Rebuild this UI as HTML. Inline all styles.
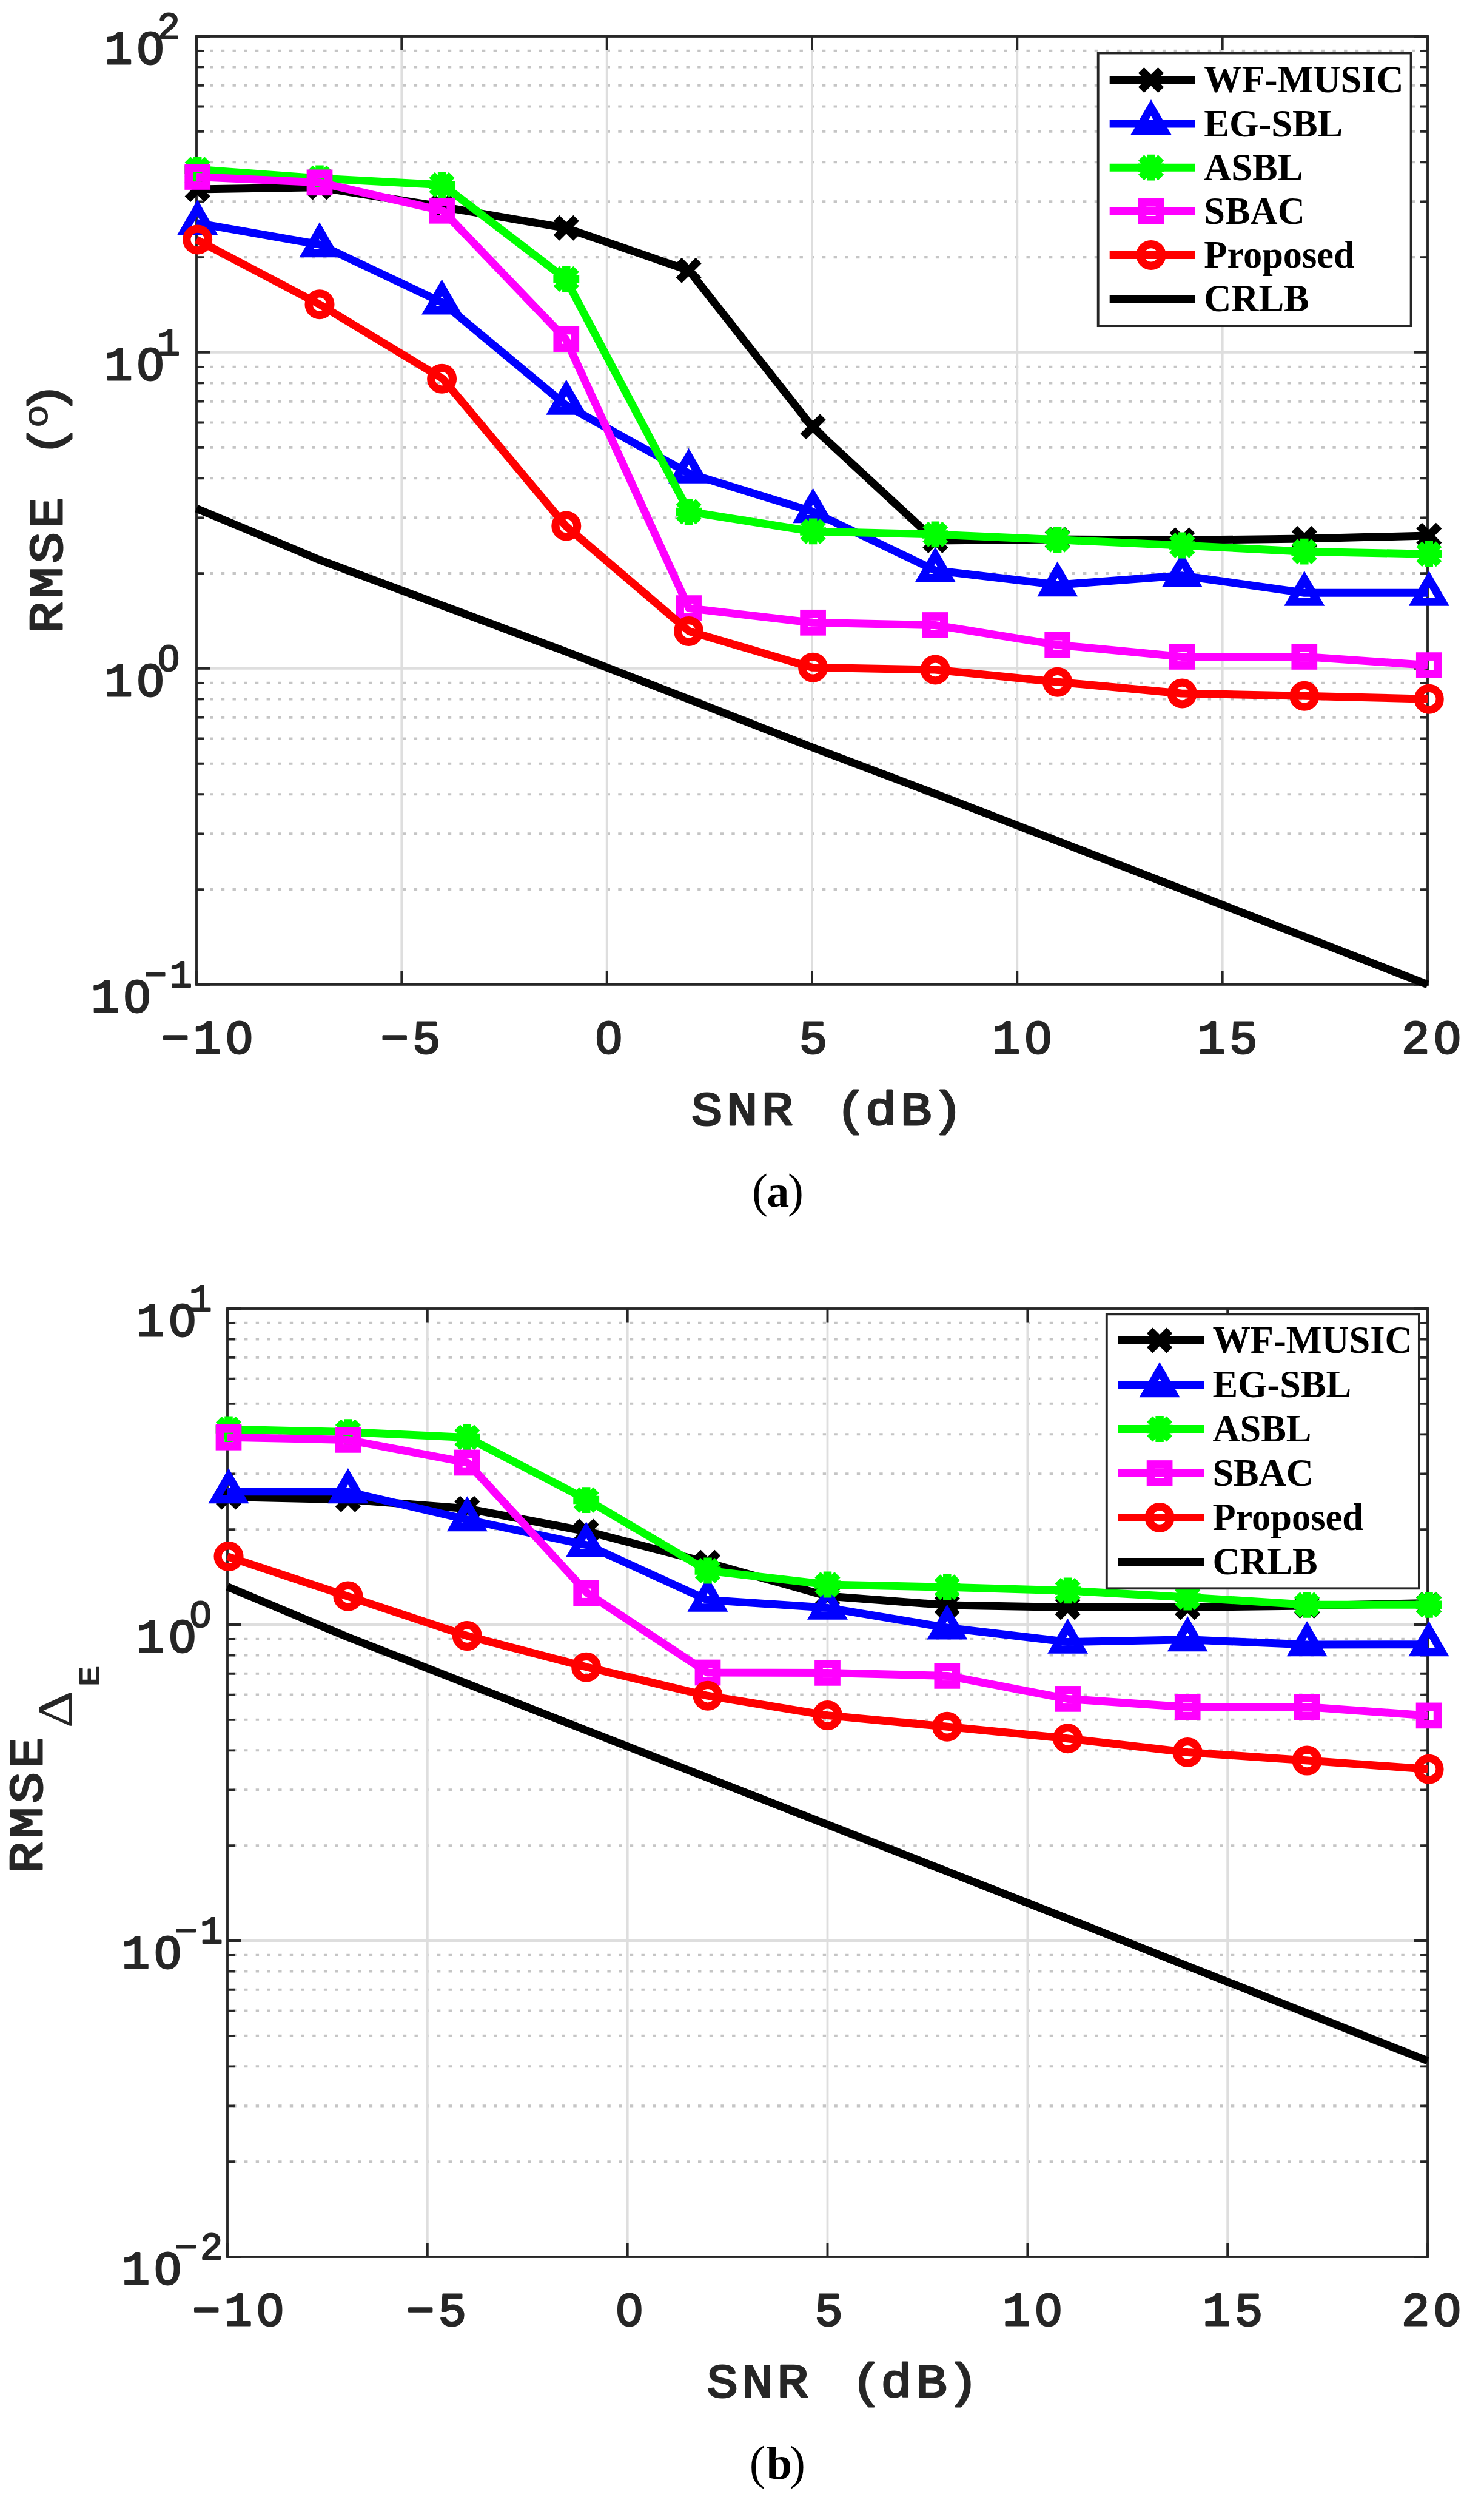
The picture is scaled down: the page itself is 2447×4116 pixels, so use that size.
<!DOCTYPE html>
<html lang="en"><head><meta charset="utf-8"><title>RMSE versus SNR</title>
<style>html,body{margin:0;padding:0;background:#fff}body{width:2447px;height:4116px;overflow:hidden}svg{display:block}</style>
</head><body>
<svg width="2447" height="4116" viewBox="0 0 2447 4116">
<rect width="2447" height="4116" fill="#ffffff"/>
<clipPath id="clipa"><rect x="324.0" y="59.95" width="2030.0" height="1562.95"/></clipPath>
<path d="M327.4 424.1H2354.0M327.4 332.4H2354.0M327.4 267.3H2354.0M327.4 216.8H2354.0M327.4 175.5H2354.0M327.4 140.7H2354.0M327.4 110.4H2354.0M327.4 83.8H2354.0M327.4 945.1H2354.0M327.4 853.3H2354.0M327.4 788.3H2354.0M327.4 737.8H2354.0M327.4 696.5H2354.0M327.4 661.6H2354.0M327.4 631.4H2354.0M327.4 604.8H2354.0M327.4 1466.1H2354.0M327.4 1374.3H2354.0M327.4 1309.2H2354.0M327.4 1258.7H2354.0M327.4 1217.5H2354.0M327.4 1182.6H2354.0M327.4 1152.4H2354.0M327.4 1125.8H2354.0" stroke="#c5c5c5" stroke-width="4.1" stroke-dasharray="5.4 13.3" fill="none" clip-path="url(#clipa)"/>
<path d="M662.3 59.95V1622.9M1000.7 59.95V1622.9M1339.0 59.95V1622.9M1677.3 59.95V1622.9M2015.7 59.95V1622.9M324.0 580.9H2354.0M324.0 1101.9H2354.0" stroke="#dedede" stroke-width="3.8" fill="none"/>
<path d="M324.0 1622.9v-22.5M324.0 59.95v22.5M662.3 1622.9v-22.5M662.3 59.95v22.5M1000.7 1622.9v-22.5M1000.7 59.95v22.5M1339.0 1622.9v-22.5M1339.0 59.95v22.5M1677.3 1622.9v-22.5M1677.3 59.95v22.5M2015.7 1622.9v-22.5M2015.7 59.95v22.5M2354.0 1622.9v-22.5M2354.0 59.95v22.5M324.0 60.0h22.5M2354.0 60.0h-22.5M324.0 580.9h22.5M2354.0 580.9h-22.5M324.0 1101.9h22.5M2354.0 1101.9h-22.5M324.0 1622.9h22.5M2354.0 1622.9h-22.5M324.0 424.1h12.0M2354.0 424.1h-12.0M324.0 332.4h12.0M2354.0 332.4h-12.0M324.0 267.3h12.0M2354.0 267.3h-12.0M324.0 216.8h12.0M2354.0 216.8h-12.0M324.0 175.5h12.0M2354.0 175.5h-12.0M324.0 140.7h12.0M2354.0 140.7h-12.0M324.0 110.4h12.0M2354.0 110.4h-12.0M324.0 83.8h12.0M2354.0 83.8h-12.0M324.0 945.1h12.0M2354.0 945.1h-12.0M324.0 853.3h12.0M2354.0 853.3h-12.0M324.0 788.3h12.0M2354.0 788.3h-12.0M324.0 737.8h12.0M2354.0 737.8h-12.0M324.0 696.5h12.0M2354.0 696.5h-12.0M324.0 661.6h12.0M2354.0 661.6h-12.0M324.0 631.4h12.0M2354.0 631.4h-12.0M324.0 604.8h12.0M2354.0 604.8h-12.0M324.0 1466.1h12.0M2354.0 1466.1h-12.0M324.0 1374.3h12.0M2354.0 1374.3h-12.0M324.0 1309.2h12.0M2354.0 1309.2h-12.0M324.0 1258.7h12.0M2354.0 1258.7h-12.0M324.0 1217.5h12.0M2354.0 1217.5h-12.0M324.0 1182.6h12.0M2354.0 1182.6h-12.0M324.0 1152.4h12.0M2354.0 1152.4h-12.0M324.0 1125.8h12.0M2354.0 1125.8h-12.0" stroke="#262626" stroke-width="3.85" fill="none"/>
<rect x="324.0" y="59.95" width="2030.0" height="1562.95" stroke="#262626" stroke-width="3.85" fill="none"/>
<polyline points="324.0,312.0 527.0,308.8 730.0,341.0 933.0,375.8 1136.0,445.8 1339.0,703.3 1542.0,891.0 1745.0,889.0 1948.0,890.3 2151.0,888.1 2354.0,882.9" stroke="#000000" stroke-width="13.0" stroke-linejoin="round" fill="none"/>
<g><path d="M309.4 295.7L342.0 328.3M309.4 328.3L342.0 295.7" stroke="#000000" stroke-width="13.5" fill="none"/><path d="M510.7 292.5L543.3 325.1M510.7 325.1L543.3 292.5" stroke="#000000" stroke-width="13.5" fill="none"/><path d="M712.3 324.7L744.9 357.3M712.3 357.3L744.9 324.7" stroke="#000000" stroke-width="13.5" fill="none"/><path d="M917.5 359.5L950.1 392.1M917.5 392.1L950.1 359.5" stroke="#000000" stroke-width="13.5" fill="none"/><path d="M1119.3 429.5L1151.9 462.1M1119.3 462.1L1151.9 429.5" stroke="#000000" stroke-width="13.5" fill="none"/><path d="M1324.3 687.0L1356.9 719.6M1324.3 719.6L1356.9 687.0" stroke="#000000" stroke-width="13.5" fill="none"/><path d="M1526.0 874.7L1558.6 907.3M1526.0 907.3L1558.6 874.7" stroke="#000000" stroke-width="13.5" fill="none"/><path d="M1727.4 872.7L1760.0 905.3M1727.4 905.3L1760.0 872.7" stroke="#000000" stroke-width="13.5" fill="none"/><path d="M1933.0 874.0L1965.6 906.6M1933.0 906.6L1965.6 874.0" stroke="#000000" stroke-width="13.5" fill="none"/><path d="M2134.5 871.8L2167.1 904.4M2134.5 904.4L2167.1 871.8" stroke="#000000" stroke-width="13.5" fill="none"/><path d="M2340.0 866.6L2372.6 899.2M2340.0 899.2L2372.6 866.6" stroke="#000000" stroke-width="13.5" fill="none"/></g>
<polyline points="324.0,367.7 527.0,403.0 730.0,499.1 933.0,667.8 1136.0,780.4 1339.0,843.0 1542.0,940.2 1745.0,964.0 1948.0,948.7 2151.0,977.2 2354.0,977.2" stroke="#0000ff" stroke-width="13.0" stroke-linejoin="round" fill="none"/>
<g><path d="M325.7 342.6L347.5 380.4L303.9 380.4Z" stroke="#0000ff" stroke-width="13.5" stroke-linejoin="miter" stroke-miterlimit="10" fill="none"/><path d="M527.0 379.8L548.8 417.6L505.2 417.6Z" stroke="#0000ff" stroke-width="13.5" stroke-linejoin="miter" stroke-miterlimit="10" fill="none"/><path d="M728.6 474.0L750.4 511.8L706.8 511.8Z" stroke="#0000ff" stroke-width="13.5" stroke-linejoin="miter" stroke-miterlimit="10" fill="none"/><path d="M933.8 639.2L955.6 676.9L912.0 676.9Z" stroke="#0000ff" stroke-width="13.5" stroke-linejoin="miter" stroke-miterlimit="10" fill="none"/><path d="M1135.6 752.2L1157.4 789.9L1113.8 789.9Z" stroke="#0000ff" stroke-width="13.5" stroke-linejoin="miter" stroke-miterlimit="10" fill="none"/><path d="M1340.6 817.9L1362.4 855.6L1318.8 855.6Z" stroke="#0000ff" stroke-width="13.5" stroke-linejoin="miter" stroke-miterlimit="10" fill="none"/><path d="M1542.3 915.0L1564.1 952.8L1520.5 952.8Z" stroke="#0000ff" stroke-width="13.5" stroke-linejoin="miter" stroke-miterlimit="10" fill="none"/><path d="M1743.7 938.9L1765.5 976.6L1721.9 976.6Z" stroke="#0000ff" stroke-width="13.5" stroke-linejoin="miter" stroke-miterlimit="10" fill="none"/><path d="M1949.3 923.6L1971.1 961.3L1927.5 961.3Z" stroke="#0000ff" stroke-width="13.5" stroke-linejoin="miter" stroke-miterlimit="10" fill="none"/><path d="M2150.8 954.4L2172.6 992.1L2129.0 992.1Z" stroke="#0000ff" stroke-width="13.5" stroke-linejoin="miter" stroke-miterlimit="10" fill="none"/><path d="M2356.3 954.4L2378.1 992.1L2334.5 992.1Z" stroke="#0000ff" stroke-width="13.5" stroke-linejoin="miter" stroke-miterlimit="10" fill="none"/></g>
<polyline points="324.0,279.3 527.0,293.9 730.0,304.8 933.0,459.9 1136.0,843.5 1339.0,875.9 1542.0,880.9 1745.0,889.8 1948.0,899.0 2151.0,909.2 2354.0,913.2" stroke="#00ff00" stroke-width="13.0" stroke-linejoin="round" fill="none"/>
<g><path d="M309.4 263.0L342.0 295.6M309.4 295.6L342.0 263.0M304.3 279.3L347.1 279.3M325.7 257.9L325.7 300.7" stroke="#00ff00" stroke-width="13.5" fill="none"/><path d="M510.7 277.6L543.3 310.2M510.7 310.2L543.3 277.6M505.6 293.9L548.4 293.9M527.0 272.5L527.0 315.3" stroke="#00ff00" stroke-width="13.5" fill="none"/><path d="M712.3 288.5L744.9 321.1M712.3 321.1L744.9 288.5M707.2 304.8L750.0 304.8M728.6 283.4L728.6 326.2" stroke="#00ff00" stroke-width="13.5" fill="none"/><path d="M917.5 443.6L950.1 476.2M917.5 476.2L950.1 443.6M912.4 459.9L955.2 459.9M933.8 438.5L933.8 481.3" stroke="#00ff00" stroke-width="13.5" fill="none"/><path d="M1119.3 827.2L1151.9 859.8M1119.3 859.8L1151.9 827.2M1114.2 843.5L1157.0 843.5M1135.6 822.1L1135.6 864.9" stroke="#00ff00" stroke-width="13.5" fill="none"/><path d="M1324.3 859.6L1356.9 892.2M1324.3 892.2L1356.9 859.6M1319.2 875.9L1362.0 875.9M1340.6 854.5L1340.6 897.3" stroke="#00ff00" stroke-width="13.5" fill="none"/><path d="M1526.0 864.6L1558.6 897.2M1526.0 897.2L1558.6 864.6M1520.9 880.9L1563.7 880.9M1542.3 859.5L1542.3 902.3" stroke="#00ff00" stroke-width="13.5" fill="none"/><path d="M1727.4 873.5L1760.0 906.1M1727.4 906.1L1760.0 873.5M1722.3 889.8L1765.1 889.8M1743.7 868.4L1743.7 911.2" stroke="#00ff00" stroke-width="13.5" fill="none"/><path d="M1933.0 882.7L1965.6 915.3M1933.0 915.3L1965.6 882.7M1927.9 899.0L1970.7 899.0M1949.3 877.6L1949.3 920.4" stroke="#00ff00" stroke-width="13.5" fill="none"/><path d="M2134.5 892.9L2167.1 925.5M2134.5 925.5L2167.1 892.9M2129.4 909.2L2172.2 909.2M2150.8 887.8L2150.8 930.6" stroke="#00ff00" stroke-width="13.5" fill="none"/><path d="M2340.0 896.9L2372.6 929.5M2340.0 929.5L2372.6 896.9M2334.9 913.2L2377.7 913.2M2356.3 891.8L2356.3 934.6" stroke="#00ff00" stroke-width="13.5" fill="none"/></g>
<polyline points="324.0,291.5 527.0,300.8 730.0,347.3 933.0,559.0 1136.0,1002.6 1339.0,1026.3 1542.0,1030.5 1745.0,1063.2 1948.0,1082.4 2151.0,1082.4 2354.0,1096.6" stroke="#ff00ff" stroke-width="13.0" stroke-linejoin="round" fill="none"/>
<g><rect x="311.2" y="277.0" width="29.0" height="29.0" stroke="#ff00ff" stroke-width="13.7" fill="none"/><rect x="512.5" y="286.3" width="29.0" height="29.0" stroke="#ff00ff" stroke-width="13.7" fill="none"/><rect x="714.1" y="332.8" width="29.0" height="29.0" stroke="#ff00ff" stroke-width="13.7" fill="none"/><rect x="919.3" y="544.5" width="29.0" height="29.0" stroke="#ff00ff" stroke-width="13.7" fill="none"/><rect x="1121.1" y="988.1" width="29.0" height="29.0" stroke="#ff00ff" stroke-width="13.7" fill="none"/><rect x="1326.1" y="1011.8" width="29.0" height="29.0" stroke="#ff00ff" stroke-width="13.7" fill="none"/><rect x="1527.8" y="1016.0" width="29.0" height="29.0" stroke="#ff00ff" stroke-width="13.7" fill="none"/><rect x="1729.2" y="1048.7" width="29.0" height="29.0" stroke="#ff00ff" stroke-width="13.7" fill="none"/><rect x="1934.8" y="1067.9" width="29.0" height="29.0" stroke="#ff00ff" stroke-width="13.7" fill="none"/><rect x="2136.3" y="1067.9" width="29.0" height="29.0" stroke="#ff00ff" stroke-width="13.7" fill="none"/><rect x="2341.8" y="1082.1" width="29.0" height="29.0" stroke="#ff00ff" stroke-width="13.7" fill="none"/></g>
<polyline points="324.0,395.0 527.0,501.7 730.0,624.2 933.0,867.0 1136.0,1040.4 1339.0,1100.3 1542.0,1104.0 1745.0,1124.3 1948.0,1143.0 2151.0,1147.3 2354.0,1152.2" stroke="#ff0000" stroke-width="13.0" stroke-linejoin="round" fill="none"/>
<g><circle cx="325.7" cy="395.0" r="17.85" stroke="#ff0000" stroke-width="13.3" fill="none"/><circle cx="527.0" cy="501.7" r="17.85" stroke="#ff0000" stroke-width="13.3" fill="none"/><circle cx="728.6" cy="624.2" r="17.85" stroke="#ff0000" stroke-width="13.3" fill="none"/><circle cx="933.8" cy="867.0" r="17.85" stroke="#ff0000" stroke-width="13.3" fill="none"/><circle cx="1135.6" cy="1040.4" r="17.85" stroke="#ff0000" stroke-width="13.3" fill="none"/><circle cx="1340.6" cy="1100.3" r="17.85" stroke="#ff0000" stroke-width="13.3" fill="none"/><circle cx="1542.3" cy="1104.0" r="17.85" stroke="#ff0000" stroke-width="13.3" fill="none"/><circle cx="1743.7" cy="1124.3" r="17.85" stroke="#ff0000" stroke-width="13.3" fill="none"/><circle cx="1949.3" cy="1143.0" r="17.85" stroke="#ff0000" stroke-width="13.3" fill="none"/><circle cx="2150.8" cy="1147.3" r="17.85" stroke="#ff0000" stroke-width="13.3" fill="none"/><circle cx="2356.3" cy="1152.2" r="17.85" stroke="#ff0000" stroke-width="13.3" fill="none"/></g>
<polyline points="324.0,838.2 527.0,922.9 730.0,998.3 933.0,1074.0 1136.0,1152.6 1339.0,1231.8 1542.0,1308.4 1745.0,1386.8 1948.0,1465.4 2151.0,1544.0 2354.0,1622.9" stroke="#000000" stroke-width="13.0" stroke-linejoin="round" fill="none"/>
<g font-family="'Liberation Mono', monospace" font-weight="normal" fill="#262626" stroke="#262626" stroke-linejoin="round">
<text transform="translate(0 1735.9) scale(1.0 1)" x="266.00 318.80 371.60" y="0" font-size="77.0" stroke-width="3.0">−10</text><rect transform="" x="387.9" y="1703.2" width="13.7" height="14.2" rx="2.4" fill="#ffffff" stroke="none"/>
<text transform="translate(0 1735.9) scale(1.0 1)" x="627.43 680.23" y="0" font-size="77.0" stroke-width="3.0">−5</text>
<text transform="translate(0 1735.9) scale(1.0 1)" x="980.77" y="0" font-size="77.0" stroke-width="3.0">0</text><rect transform="" x="997.0" y="1703.2" width="13.7" height="14.2" rx="2.4" fill="#ffffff" stroke="none"/>
<text transform="translate(0 1735.9) scale(1.0 1)" x="1317.90" y="0" font-size="77.0" stroke-width="3.0">5</text>
<text transform="translate(0 1735.9) scale(1.0 1)" x="1636.03 1688.83" y="0" font-size="77.0" stroke-width="3.0">10</text><rect transform="" x="1705.1" y="1703.2" width="13.7" height="14.2" rx="2.4" fill="#ffffff" stroke="none"/>
<text transform="translate(0 1735.9) scale(1.0 1)" x="1974.57 2027.37" y="0" font-size="77.0" stroke-width="3.0">15</text>
<text transform="translate(0 1735.9) scale(1.0 1)" x="2310.90 2363.40" y="0" font-size="77.0" stroke-width="3.0">20</text><rect transform="" x="2379.7" y="1703.2" width="13.7" height="14.2" rx="2.4" fill="#ffffff" stroke="none"/>
<text transform="translate(0 104.8) scale(1.0 1)" x="172.30 225.10" y="0" font-size="77.0" stroke-width="3.0">10</text><rect transform="" x="241.4" y="72.1" width="13.7" height="14.2" rx="2.4" fill="#ffffff" stroke="none"/>
<text transform="translate(0 63.5) scale(1.0 1)" x="259.51" y="0" font-size="62.3" stroke-width="2.2">2</text>
<text transform="translate(0 625.7) scale(1.0 1)" x="172.30 225.10" y="0" font-size="77.0" stroke-width="3.0">10</text><rect transform="" x="241.4" y="593.1" width="13.7" height="14.2" rx="2.4" fill="#ffffff" stroke="none"/>
<text transform="translate(0 584.5) scale(1.0 1)" x="259.51" y="0" font-size="62.3" stroke-width="2.2">1</text>
<text transform="translate(0 1146.7) scale(1.0 1)" x="172.30 225.10" y="0" font-size="77.0" stroke-width="3.0">10</text><rect transform="" x="241.4" y="1114.1" width="13.7" height="14.2" rx="2.4" fill="#ffffff" stroke="none"/>
<text transform="translate(0 1105.5) scale(1.0 1)" x="259.51" y="0" font-size="62.3" stroke-width="2.2">0</text><rect transform="" x="272.6" y="1079.0" width="11.2" height="11.6" rx="2.0" fill="#ffffff" stroke="none"/>
<text transform="translate(0 1667.7) scale(1.0 1)" x="150.30 203.10" y="0" font-size="77.0" stroke-width="3.0">10</text><rect transform="" x="219.4" y="1635.0" width="13.7" height="14.2" rx="2.4" fill="#ffffff" stroke="none"/>
<text transform="translate(0 1626.5) scale(1.0 1)" x="237.51 279.51" y="0" font-size="62.3" stroke-width="2.2">−1</text>
<text transform="translate(0 1853.6) scale(1.1 1)" x="1036.06 1088.78 1141.51 1194.24 1252.42 1296.96 1349.69 1396.51" y="0" font-size="78.3" stroke-width="3.0">SNR (dB)</text>
</g>
<rect x="1810.7" y="87.5" width="515.9" height="449.6" fill="#ffffff" stroke="#262626" stroke-width="3.85"/>
<g font-family="'Liberation Serif', serif" font-weight="bold" font-size="62.4" fill="#000000">
<path d="M1829.7 132.0H1971.0" stroke="#000000" stroke-width="13.0" fill="none"/>
<path d="M1881.7 115.7L1914.3 148.3M1881.7 148.3L1914.3 115.7" stroke="#000000" stroke-width="13.5" fill="none"/>
<text x="1985.3" y="152.4">WF-MUSIC</text>
<path d="M1829.7 204.1H1971.0" stroke="#0000ff" stroke-width="13.0" fill="none"/>
<path d="M1898.0 177.6L1919.8 215.3L1876.2 215.3Z" stroke="#0000ff" stroke-width="13.5" stroke-linejoin="miter" stroke-miterlimit="10" fill="none"/>
<text x="1985.3" y="224.5">EG-SBL</text>
<path d="M1829.7 276.2H1971.0" stroke="#00ff00" stroke-width="13.0" fill="none"/>
<path d="M1881.7 259.9L1914.3 292.5M1881.7 292.5L1914.3 259.9M1876.6 276.2L1919.4 276.2M1898.0 254.8L1898.0 297.6" stroke="#00ff00" stroke-width="13.5" fill="none"/>
<text x="1985.3" y="296.6">ASBL</text>
<path d="M1829.7 348.3H1971.0" stroke="#ff00ff" stroke-width="13.0" fill="none"/>
<rect x="1883.5" y="333.8" width="29.0" height="29.0" stroke="#ff00ff" stroke-width="13.7" fill="none"/>
<text x="1985.3" y="368.7">SBAC</text>
<path d="M1829.7 420.4H1971.0" stroke="#ff0000" stroke-width="13.0" fill="none"/>
<circle cx="1898.0" cy="420.4" r="17.85" stroke="#ff0000" stroke-width="13.3" fill="none"/>
<text x="1985.3" y="440.8">Proposed</text>
<path d="M1829.7 492.5H1971.0" stroke="#000000" stroke-width="13.0" fill="none"/>
<text x="1985.3" y="512.9">CRLB</text>
</g>
<clipPath id="clipb"><rect x="375.0" y="2157.0" width="1979.0500000000002" height="1563.0"/></clipPath>
<path d="M384.3 2521.2H2354.1M384.3 2429.4H2354.1M384.3 2364.3H2354.1M384.3 2313.8H2354.1M384.3 2272.6H2354.1M384.3 2237.7H2354.1M384.3 2207.5H2354.1M384.3 2180.8H2354.1M384.3 3042.2H2354.1M384.3 2950.4H2354.1M384.3 2885.3H2354.1M384.3 2834.8H2354.1M384.3 2793.6H2354.1M384.3 2758.7H2354.1M384.3 2728.5H2354.1M384.3 2701.8H2354.1M384.3 3563.2H2354.1M384.3 3471.4H2354.1M384.3 3406.3H2354.1M384.3 3355.8H2354.1M384.3 3314.6H2354.1M384.3 3279.7H2354.1M384.3 3249.5H2354.1M384.3 3222.8H2354.1" stroke="#c5c5c5" stroke-width="4.1" stroke-dasharray="5.4 13.3" fill="none" clip-path="url(#clipb)"/>
<path d="M704.8 2157.0V3720.0M1034.7 2157.0V3720.0M1364.5 2157.0V3720.0M1694.4 2157.0V3720.0M2024.2 2157.0V3720.0M375.0 2678.0H2354.05M375.0 3199.0H2354.05" stroke="#dedede" stroke-width="3.8" fill="none"/>
<path d="M375.0 3720.0v-22.5M375.0 2157.0v22.5M704.8 3720.0v-22.5M704.8 2157.0v22.5M1034.7 3720.0v-22.5M1034.7 2157.0v22.5M1364.5 3720.0v-22.5M1364.5 2157.0v22.5M1694.4 3720.0v-22.5M1694.4 2157.0v22.5M2024.2 3720.0v-22.5M2024.2 2157.0v22.5M2354.1 3720.0v-22.5M2354.1 2157.0v22.5M375.0 2157.0h22.5M2354.05 2157.0h-22.5M375.0 2678.0h22.5M2354.05 2678.0h-22.5M375.0 3199.0h22.5M2354.05 3199.0h-22.5M375.0 3720.0h22.5M2354.05 3720.0h-22.5M375.0 2521.2h12.0M2354.05 2521.2h-12.0M375.0 2429.4h12.0M2354.05 2429.4h-12.0M375.0 2364.3h12.0M2354.05 2364.3h-12.0M375.0 2313.8h12.0M2354.05 2313.8h-12.0M375.0 2272.6h12.0M2354.05 2272.6h-12.0M375.0 2237.7h12.0M2354.05 2237.7h-12.0M375.0 2207.5h12.0M2354.05 2207.5h-12.0M375.0 2180.8h12.0M2354.05 2180.8h-12.0M375.0 3042.2h12.0M2354.05 3042.2h-12.0M375.0 2950.4h12.0M2354.05 2950.4h-12.0M375.0 2885.3h12.0M2354.05 2885.3h-12.0M375.0 2834.8h12.0M2354.05 2834.8h-12.0M375.0 2793.6h12.0M2354.05 2793.6h-12.0M375.0 2758.7h12.0M2354.05 2758.7h-12.0M375.0 2728.5h12.0M2354.05 2728.5h-12.0M375.0 2701.8h12.0M2354.05 2701.8h-12.0M375.0 3563.2h12.0M2354.05 3563.2h-12.0M375.0 3471.4h12.0M2354.05 3471.4h-12.0M375.0 3406.3h12.0M2354.05 3406.3h-12.0M375.0 3355.8h12.0M2354.05 3355.8h-12.0M375.0 3314.6h12.0M2354.05 3314.6h-12.0M375.0 3279.7h12.0M2354.05 3279.7h-12.0M375.0 3249.5h12.0M2354.05 3249.5h-12.0M375.0 3222.8h12.0M2354.05 3222.8h-12.0" stroke="#262626" stroke-width="3.85" fill="none"/>
<rect x="375.0" y="2157.0" width="1979.0500000000002" height="1563.0" stroke="#262626" stroke-width="3.85" fill="none"/>
<polyline points="375.0,2467.5 572.9,2471.8 770.8,2486.8 968.7,2524.5 1166.6,2575.7 1364.5,2631.0 1562.4,2646.0 1760.3,2649.4 1958.2,2649.4 2156.1,2647.0 2354.1,2642.5" stroke="#000000" stroke-width="13.0" stroke-linejoin="round" fill="none"/>
<g><path d="M360.7 2451.2L393.3 2483.8M360.7 2483.8L393.3 2451.2" stroke="#000000" stroke-width="13.5" fill="none"/><path d="M557.6 2455.5L590.2 2488.1M557.6 2488.1L590.2 2455.5" stroke="#000000" stroke-width="13.5" fill="none"/><path d="M754.0 2470.5L786.6 2503.1M754.0 2503.1L786.6 2470.5" stroke="#000000" stroke-width="13.5" fill="none"/><path d="M950.4 2508.2L983.0 2540.8M950.4 2540.8L983.0 2508.2" stroke="#000000" stroke-width="13.5" fill="none"/><path d="M1150.7 2559.4L1183.3 2592.0M1150.7 2592.0L1183.3 2559.4" stroke="#000000" stroke-width="13.5" fill="none"/><path d="M1348.2 2614.7L1380.8 2647.3M1348.2 2647.3L1380.8 2614.7" stroke="#000000" stroke-width="13.5" fill="none"/><path d="M1545.5 2629.7L1578.1 2662.3M1545.5 2662.3L1578.1 2629.7" stroke="#000000" stroke-width="13.5" fill="none"/><path d="M1744.3 2633.1L1776.9 2665.7M1744.3 2665.7L1776.9 2633.1" stroke="#000000" stroke-width="13.5" fill="none"/><path d="M1941.9 2633.1L1974.5 2665.7M1941.9 2665.7L1974.5 2633.1" stroke="#000000" stroke-width="13.5" fill="none"/><path d="M2138.8 2630.7L2171.4 2663.3M2138.8 2663.3L2171.4 2630.7" stroke="#000000" stroke-width="13.5" fill="none"/><path d="M2339.8 2628.5L2372.4 2661.1M2339.8 2661.1L2372.4 2628.5" stroke="#000000" stroke-width="13.5" fill="none"/></g>
<polyline points="375.0,2458.8 572.9,2458.8 770.8,2505.0 968.7,2547.0 1166.6,2637.3 1364.5,2650.3 1562.4,2683.2 1760.3,2706.5 1958.2,2702.8 2156.1,2710.9 2354.1,2710.8" stroke="#0000ff" stroke-width="13.0" stroke-linejoin="round" fill="none"/>
<g><path d="M377.0 2433.6L398.8 2471.4L355.2 2471.4Z" stroke="#0000ff" stroke-width="13.5" stroke-linejoin="miter" stroke-miterlimit="10" fill="none"/><path d="M573.9 2433.6L595.7 2471.4L552.1 2471.4Z" stroke="#0000ff" stroke-width="13.5" stroke-linejoin="miter" stroke-miterlimit="10" fill="none"/><path d="M770.3 2479.8L792.1 2517.6L748.5 2517.6Z" stroke="#0000ff" stroke-width="13.5" stroke-linejoin="miter" stroke-miterlimit="10" fill="none"/><path d="M966.7 2521.8L988.5 2559.6L944.9 2559.6Z" stroke="#0000ff" stroke-width="13.5" stroke-linejoin="miter" stroke-miterlimit="10" fill="none"/><path d="M1167.0 2612.1L1188.8 2649.9L1145.2 2649.9Z" stroke="#0000ff" stroke-width="13.5" stroke-linejoin="miter" stroke-miterlimit="10" fill="none"/><path d="M1364.5 2625.1L1386.3 2662.9L1342.7 2662.9Z" stroke="#0000ff" stroke-width="13.5" stroke-linejoin="miter" stroke-miterlimit="10" fill="none"/><path d="M1561.8 2658.0L1583.6 2695.8L1540.0 2695.8Z" stroke="#0000ff" stroke-width="13.5" stroke-linejoin="miter" stroke-miterlimit="10" fill="none"/><path d="M1760.6 2681.3L1782.4 2719.1L1738.8 2719.1Z" stroke="#0000ff" stroke-width="13.5" stroke-linejoin="miter" stroke-miterlimit="10" fill="none"/><path d="M1958.2 2677.6L1980.0 2715.4L1936.4 2715.4Z" stroke="#0000ff" stroke-width="13.5" stroke-linejoin="miter" stroke-miterlimit="10" fill="none"/><path d="M2155.1 2685.7L2176.9 2723.5L2133.3 2723.5Z" stroke="#0000ff" stroke-width="13.5" stroke-linejoin="miter" stroke-miterlimit="10" fill="none"/><path d="M2356.1 2685.6L2377.9 2723.4L2334.2 2723.4Z" stroke="#0000ff" stroke-width="13.5" stroke-linejoin="miter" stroke-miterlimit="10" fill="none"/></g>
<polyline points="375.0,2356.0 572.9,2360.6 770.8,2369.5 968.7,2472.6 1166.6,2589.0 1364.5,2612.0 1562.4,2616.2 1760.3,2621.9 1958.2,2633.0 2156.1,2645.3 2354.1,2645.3" stroke="#00ff00" stroke-width="13.0" stroke-linejoin="round" fill="none"/>
<g><path d="M360.7 2339.7L393.3 2372.3M360.7 2372.3L393.3 2339.7M355.6 2356.0L398.4 2356.0M377.0 2334.6L377.0 2377.4" stroke="#00ff00" stroke-width="13.5" fill="none"/><path d="M557.6 2344.3L590.2 2376.9M557.6 2376.9L590.2 2344.3M552.5 2360.6L595.3 2360.6M573.9 2339.2L573.9 2382.0" stroke="#00ff00" stroke-width="13.5" fill="none"/><path d="M754.0 2353.2L786.6 2385.8M754.0 2385.8L786.6 2353.2M748.9 2369.5L791.7 2369.5M770.3 2348.1L770.3 2390.9" stroke="#00ff00" stroke-width="13.5" fill="none"/><path d="M950.4 2456.3L983.0 2488.9M950.4 2488.9L983.0 2456.3M945.3 2472.6L988.1 2472.6M966.7 2451.2L966.7 2494.0" stroke="#00ff00" stroke-width="13.5" fill="none"/><path d="M1150.7 2572.7L1183.3 2605.3M1150.7 2605.3L1183.3 2572.7M1145.6 2589.0L1188.4 2589.0M1167.0 2567.6L1167.0 2610.4" stroke="#00ff00" stroke-width="13.5" fill="none"/><path d="M1348.2 2595.7L1380.8 2628.3M1348.2 2628.3L1380.8 2595.7M1343.1 2612.0L1385.9 2612.0M1364.5 2590.6L1364.5 2633.4" stroke="#00ff00" stroke-width="13.5" fill="none"/><path d="M1545.5 2599.9L1578.1 2632.5M1545.5 2632.5L1578.1 2599.9M1540.4 2616.2L1583.2 2616.2M1561.8 2594.8L1561.8 2637.6" stroke="#00ff00" stroke-width="13.5" fill="none"/><path d="M1744.3 2605.6L1776.9 2638.2M1744.3 2638.2L1776.9 2605.6M1739.2 2621.9L1782.0 2621.9M1760.6 2600.5L1760.6 2643.3" stroke="#00ff00" stroke-width="13.5" fill="none"/><path d="M1941.9 2616.7L1974.5 2649.3M1941.9 2649.3L1974.5 2616.7M1936.8 2633.0L1979.6 2633.0M1958.2 2611.6L1958.2 2654.4" stroke="#00ff00" stroke-width="13.5" fill="none"/><path d="M2138.8 2629.0L2171.4 2661.6M2138.8 2661.6L2171.4 2629.0M2133.7 2645.3L2176.5 2645.3M2155.1 2623.9L2155.1 2666.7" stroke="#00ff00" stroke-width="13.5" fill="none"/><path d="M2339.8 2629.0L2372.4 2661.6M2339.8 2661.6L2372.4 2629.0M2334.7 2645.3L2377.5 2645.3M2356.1 2623.9L2356.1 2666.7" stroke="#00ff00" stroke-width="13.5" fill="none"/></g>
<polyline points="375.0,2369.3 572.9,2373.4 770.8,2411.0 968.7,2626.2 1166.6,2757.0 1364.5,2757.4 1562.4,2762.4 1760.3,2800.4 1958.2,2814.0 2156.1,2813.7 2354.1,2827.9" stroke="#ff00ff" stroke-width="13.0" stroke-linejoin="round" fill="none"/>
<g><rect x="362.5" y="2354.8" width="29.0" height="29.0" stroke="#ff00ff" stroke-width="13.7" fill="none"/><rect x="559.4" y="2358.9" width="29.0" height="29.0" stroke="#ff00ff" stroke-width="13.7" fill="none"/><rect x="755.8" y="2396.5" width="29.0" height="29.0" stroke="#ff00ff" stroke-width="13.7" fill="none"/><rect x="952.2" y="2611.7" width="29.0" height="29.0" stroke="#ff00ff" stroke-width="13.7" fill="none"/><rect x="1152.5" y="2742.5" width="29.0" height="29.0" stroke="#ff00ff" stroke-width="13.7" fill="none"/><rect x="1350.0" y="2742.9" width="29.0" height="29.0" stroke="#ff00ff" stroke-width="13.7" fill="none"/><rect x="1547.3" y="2747.9" width="29.0" height="29.0" stroke="#ff00ff" stroke-width="13.7" fill="none"/><rect x="1746.1" y="2785.9" width="29.0" height="29.0" stroke="#ff00ff" stroke-width="13.7" fill="none"/><rect x="1943.7" y="2799.5" width="29.0" height="29.0" stroke="#ff00ff" stroke-width="13.7" fill="none"/><rect x="2140.6" y="2799.2" width="29.0" height="29.0" stroke="#ff00ff" stroke-width="13.7" fill="none"/><rect x="2341.6" y="2813.4" width="29.0" height="29.0" stroke="#ff00ff" stroke-width="13.7" fill="none"/></g>
<polyline points="375.0,2565.6 572.9,2631.1 770.8,2696.6 968.7,2748.3 1166.6,2795.2 1364.5,2827.6 1562.4,2846.3 1760.3,2865.7 1958.2,2888.5 2156.1,2902.1 2354.1,2916.2" stroke="#ff0000" stroke-width="13.0" stroke-linejoin="round" fill="none"/>
<g><circle cx="377.0" cy="2565.6" r="17.85" stroke="#ff0000" stroke-width="13.3" fill="none"/><circle cx="573.9" cy="2631.1" r="17.85" stroke="#ff0000" stroke-width="13.3" fill="none"/><circle cx="770.3" cy="2696.6" r="17.85" stroke="#ff0000" stroke-width="13.3" fill="none"/><circle cx="966.7" cy="2748.3" r="17.85" stroke="#ff0000" stroke-width="13.3" fill="none"/><circle cx="1167.0" cy="2795.2" r="17.85" stroke="#ff0000" stroke-width="13.3" fill="none"/><circle cx="1364.5" cy="2827.6" r="17.85" stroke="#ff0000" stroke-width="13.3" fill="none"/><circle cx="1561.8" cy="2846.3" r="17.85" stroke="#ff0000" stroke-width="13.3" fill="none"/><circle cx="1760.6" cy="2865.7" r="17.85" stroke="#ff0000" stroke-width="13.3" fill="none"/><circle cx="1958.2" cy="2888.5" r="17.85" stroke="#ff0000" stroke-width="13.3" fill="none"/><circle cx="2155.1" cy="2902.1" r="17.85" stroke="#ff0000" stroke-width="13.3" fill="none"/><circle cx="2356.1" cy="2916.2" r="17.85" stroke="#ff0000" stroke-width="13.3" fill="none"/></g>
<polyline points="375.0,2615.4 572.9,2698.3 770.8,2775.6 968.7,2853.0 1166.6,2930.3 1364.5,3007.6 1562.4,3085.0 1760.3,3162.6 1958.2,3240.7 2156.1,3318.9 2354.1,3397.0" stroke="#000000" stroke-width="13.0" stroke-linejoin="round" fill="none"/>
<g font-family="'Liberation Mono', monospace" font-weight="normal" fill="#262626" stroke="#262626" stroke-linejoin="round">
<text transform="translate(0 3833.0) scale(1.0 1)" x="317.00 369.80 422.60" y="0" font-size="77.0" stroke-width="3.0">−10</text><rect transform="" x="438.9" y="3800.3" width="13.7" height="14.2" rx="2.4" fill="#ffffff" stroke="none"/>
<text transform="translate(0 3833.0) scale(1.0 1)" x="669.94 722.74" y="0" font-size="77.0" stroke-width="3.0">−5</text>
<text transform="translate(0 3833.0) scale(1.0 1)" x="1014.78" y="0" font-size="77.0" stroke-width="3.0">0</text><rect transform="" x="1031.1" y="3800.3" width="13.7" height="14.2" rx="2.4" fill="#ffffff" stroke="none"/>
<text transform="translate(0 3833.0) scale(1.0 1)" x="1343.43" y="0" font-size="77.0" stroke-width="3.0">5</text>
<text transform="translate(0 3833.0) scale(1.0 1)" x="1653.07 1705.87" y="0" font-size="77.0" stroke-width="3.0">10</text><rect transform="" x="1722.1" y="3800.3" width="13.7" height="14.2" rx="2.4" fill="#ffffff" stroke="none"/>
<text transform="translate(0 3833.0) scale(1.0 1)" x="1983.11 2035.91" y="0" font-size="77.0" stroke-width="3.0">15</text>
<text transform="translate(0 3833.0) scale(1.0 1)" x="2310.95 2363.45" y="0" font-size="77.0" stroke-width="3.0">20</text><rect transform="" x="2379.7" y="3800.3" width="13.7" height="14.2" rx="2.4" fill="#ffffff" stroke="none"/>
<text transform="translate(0 2201.8) scale(1.0 1)" x="224.90 277.70" y="0" font-size="77.0" stroke-width="3.0">10</text><rect transform="" x="294.0" y="2169.1" width="13.7" height="14.2" rx="2.4" fill="#ffffff" stroke="none"/>
<text transform="translate(0 2160.6) scale(1.0 1)" x="312.11" y="0" font-size="62.3" stroke-width="2.2">1</text>
<text transform="translate(0 2722.8) scale(1.0 1)" x="224.90 277.70" y="0" font-size="77.0" stroke-width="3.0">10</text><rect transform="" x="294.0" y="2690.1" width="13.7" height="14.2" rx="2.4" fill="#ffffff" stroke="none"/>
<text transform="translate(0 2681.6) scale(1.0 1)" x="312.11" y="0" font-size="62.3" stroke-width="2.2">0</text><rect transform="" x="325.2" y="2655.1" width="11.2" height="11.6" rx="2.0" fill="#ffffff" stroke="none"/>
<text transform="translate(0 3243.8) scale(1.0 1)" x="200.80 253.60" y="0" font-size="77.0" stroke-width="3.0">10</text><rect transform="" x="269.9" y="3211.1" width="13.7" height="14.2" rx="2.4" fill="#ffffff" stroke="none"/>
<text transform="translate(0 3202.6) scale(1.0 1)" x="288.01 330.01" y="0" font-size="62.3" stroke-width="2.2">−1</text>
<text transform="translate(0 3764.8) scale(1.0 1)" x="200.80 253.60" y="0" font-size="77.0" stroke-width="3.0">10</text><rect transform="" x="269.9" y="3732.1" width="13.7" height="14.2" rx="2.4" fill="#ffffff" stroke="none"/>
<text transform="translate(0 3723.6) scale(1.0 1)" x="288.01 330.01" y="0" font-size="62.3" stroke-width="2.2">−2</text>
<text transform="translate(0 3950.7) scale(1.1 1)" x="1059.26 1111.99 1164.71 1217.44 1275.62 1320.17 1372.90 1419.71" y="0" font-size="78.3" stroke-width="3.0">SNR (dB)</text>
</g>
<rect x="1824.8" y="2166.3" width="515.1" height="452.0" fill="#ffffff" stroke="#262626" stroke-width="3.85"/>
<g font-family="'Liberation Serif', serif" font-weight="bold" font-size="62.4" fill="#000000">
<path d="M1843.8 2209.5H1985.1" stroke="#000000" stroke-width="13.0" fill="none"/>
<path d="M1895.8 2193.2L1928.4 2225.8M1895.8 2225.8L1928.4 2193.2" stroke="#000000" stroke-width="13.5" fill="none"/>
<text x="1999.4" y="2229.9">WF-MUSIC</text>
<path d="M1843.8 2282.5H1985.1" stroke="#0000ff" stroke-width="13.0" fill="none"/>
<path d="M1912.1 2258.6L1933.9 2296.4L1890.3 2296.4Z" stroke="#0000ff" stroke-width="13.5" stroke-linejoin="miter" stroke-miterlimit="10" fill="none"/>
<text x="1999.4" y="2302.9">EG-SBL</text>
<path d="M1843.8 2355.5H1985.1" stroke="#00ff00" stroke-width="13.0" fill="none"/>
<path d="M1895.8 2339.2L1928.4 2371.8M1895.8 2371.8L1928.4 2339.2M1890.7 2355.5L1933.5 2355.5M1912.1 2334.1L1912.1 2376.9" stroke="#00ff00" stroke-width="13.5" fill="none"/>
<text x="1999.4" y="2375.9">ASBL</text>
<path d="M1843.8 2428.5H1985.1" stroke="#ff00ff" stroke-width="13.0" fill="none"/>
<rect x="1897.6" y="2414.0" width="29.0" height="29.0" stroke="#ff00ff" stroke-width="13.7" fill="none"/>
<text x="1999.4" y="2448.9">SBAC</text>
<path d="M1843.8 2501.5H1985.1" stroke="#ff0000" stroke-width="13.0" fill="none"/>
<circle cx="1912.1" cy="2501.5" r="17.85" stroke="#ff0000" stroke-width="13.3" fill="none"/>
<text x="1999.4" y="2521.9">Proposed</text>
<path d="M1843.8 2574.5H1985.1" stroke="#000000" stroke-width="13.0" fill="none"/>
<text x="1999.4" y="2594.9">CRLB</text>
</g>
<g font-family="'Liberation Mono', monospace" font-weight="normal" fill="#262626" stroke="#262626" stroke-linejoin="round">
<text transform="translate(102.2 1100) rotate(-90) translate(0 0.0) scale(1.1 1)" x="51.06 103.42 155.78 208.15" y="0" font-size="78.3" stroke-width="3.0">RMSE</text>
<text transform="translate(102.2 1100) rotate(-90) translate(0 0.0) scale(1.1 1)" x="316.24" y="0" font-size="78.3" stroke-width="3.0">(</text>
<text transform="translate(102.2 1100) rotate(-90) translate(0 0.0) scale(1.1 1)" x="379.78" y="0" font-size="78.3" stroke-width="3.0">)</text>
<text transform="translate(102.2 1100) rotate(-90) translate(413.8 -24.6) scale(1.13 1)" x="-17.1" y="0" font-size="57" stroke-width="0.8">o</text>
<text transform="translate(69.3 3150) rotate(-90) translate(0 0.0) scale(1.1 1)" x="56.51 108.87 161.24 213.60" y="0" font-size="78.3" stroke-width="3.0">RMSE</text>
<text transform="translate(69.3 3150) rotate(-90) translate(0 93.9) scale(1.22 1)" x="303.50" y="0" font-size="46.0" stroke-width="2.0">E</text>
</g>
<text transform="translate(70.8 3150) rotate(-90) translate(305.3 47) scale(1.19 1)" x="-3.1" y="0" font-family="'Liberation Serif', serif" font-size="81.0" fill="#262626">Δ</text>
<g font-family="'Liberation Serif', serif" font-size="78" fill="#000000">
<text y="1988.5"><tspan x="1239.9">(</tspan><tspan x="1264.3" font-weight="bold" font-size="74">a</tspan><tspan x="1299">)</tspan></text>
<text y="4085.8"><tspan x="1235.8">(</tspan><tspan x="1263.8" font-weight="bold" font-size="76">b</tspan><tspan x="1302">)</tspan></text>
</g>
</svg>
</body></html>
